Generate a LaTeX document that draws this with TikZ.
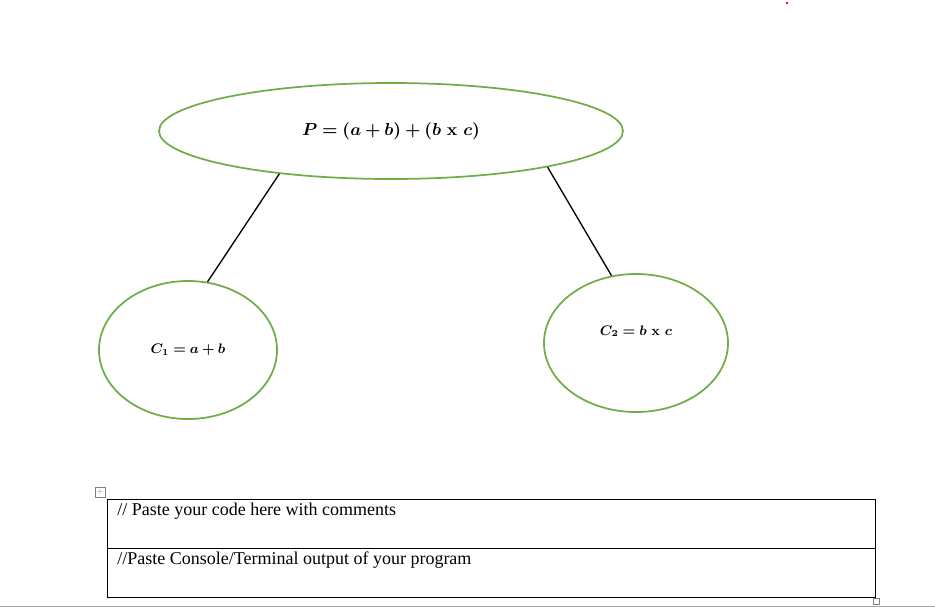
\documentclass[tikz,border=0pt]{standalone}
\usepackage{fontspec}
\usepackage{amsmath,bm}
\usetikzlibrary{shapes.geometric}
\newfontfamily\tnr{Liberation Serif}
\definecolor{lg}{RGB}{112,173,71}
\tikzset{bub/.style={ellipse,draw=lg,line width=1.3pt,inner sep=0pt},
 conn/.style={line width=1pt},
 cell/.style={anchor=west,font=\tnr\fontsize{13.5}{15}\selectfont,inner sep=0pt}}
\begin{document}
\begin{tikzpicture}[x=0.75pt,y=-0.75pt]
\useasboundingbox (0,0) rectangle (935,608);
\fill[white] (0,0) rectangle (935,608);
\node[bub,minimum width=348pt,minimum height=72pt] (top) at (391,131) {};
\node[scale=1.3] at (391,131) {$\bm{P = (a+b) + (b\ \mathrm{\mathbf{x}}\ c)}$};
\node[bub,minimum width=133.5pt,minimum height=103.5pt] (l) at (188,350) {};
\node[scale=1.15] at (188,350) {\small$\bm{C_1 = a+b}$};
\node[bub,minimum width=138pt,minimum height=103.5pt] (r) at (636,343) {};
\node[scale=1.15] at (636,331) {\small$\bm{C_2 = b\ \mathrm{\mathbf{x}}\ c}$};
\draw[conn] (top.-159) -- (l.74);
\draw[conn] (top.-13) -- (r.110);
\draw[line width=0.6pt] (107,499) rectangle (875,597);
\draw[line width=0.6pt] (107,548) -- (875,548);
\node[cell] (t1) at (117,511) {// Paste your code here with comments};
\node[cell] (t2) at (117,560) {//Paste Console/Terminal output of your program};
\draw[gray,line width=0.4pt] (95,487) rectangle (105,497);
\node[font=\tiny,gray] (mv) at (100,492) {+};
\draw[gray,line width=0.4pt] (873,598) rectangle (879,604);
\fill[red] (787,3) circle (1.3);
\draw[gray!70,line width=0.6pt] (0,606) -- (935,606);
\end{tikzpicture}
\end{document}
